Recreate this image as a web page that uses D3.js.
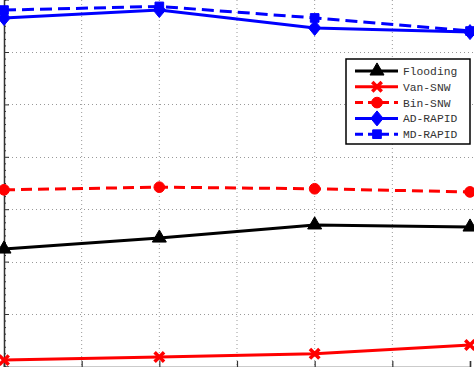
<!DOCTYPE html>
<html>
<head>
<meta charset="utf-8">
<script src="https://cdn.jsdelivr.net/npm/d3@7"></script>
<style>
  body { margin: 0; background: #fff; }
  svg { display: block; }
</style>
</head>
<body>
<script>
// Data (y in arbitrary units, axis labels are cropped away)
const xValues = [1, 2, 3, 4];
const flooding = [22.4, 24.5, 27.0, 26.6];
const vanSNW = [1.2, 1.8, 2.4, 4.1];
const binSNW = [33.7, 34.2, 33.9, 33.3];
const adRapid = [66.5, 68.0, 64.6, 63.8];
const mdRapid = [68.0, 68.7, 66.5, 64.0];
const xTicks = [1, 1.5, 2, 2.5, 3, 3.5, 4];
const yTicks = [10, 20, 30, 40, 50, 60];

const series = [
  { name: 'Flooding', values: flooding, color: '#000', dash: null, marker: 'triangle' },
  { name: 'Van-SNW', values: vanSNW, color: '#ff0000', dash: null, marker: 'cross' },
  { name: 'Bin-SNW', values: binSNW, color: '#ff0000', dash: '11,6', marker: 'circle' },
  { name: 'AD-RAPID', values: adRapid, color: '#0000ff', dash: null, marker: 'diamond' },
  { name: 'MD-RAPID', values: mdRapid, color: '#0000ff', dash: '12,6', marker: 'square' }
];

const width = 474, height = 367;

const svg = d3.select('body').append('svg')
  .attr('width', width)
  .attr('height', height);

const x = d3.scaleLinear().domain([1, 4]).range([4, 470]);
const y = d3.scaleLinear().domain([0, 70]).range([366.4, -0.4]);

// grid lines (dotted)
svg.append('g').selectAll('line')
  .data(xTicks.slice(1, -1))
  .enter().append('line')
  .attr('x1', d => x(d)).attr('x2', d => x(d))
  .attr('y1', 0).attr('y2', height)
  .attr('stroke', '#999').attr('stroke-width', 1)
  .attr('stroke-dasharray', '1,3');

svg.append('g').selectAll('line')
  .data(yTicks)
  .enter().append('line')
  .attr('x1', x(1)).attr('x2', width)
  .attr('y1', d => Math.round(y(d)) + 0.5).attr('y2', d => Math.round(y(d)) + 0.5)
  .attr('stroke', '#999').attr('stroke-width', 1)
  .attr('stroke-dasharray', '1,3');

// left axis with minor ticks
const yAxis = d3.axisRight(y)
  .tickValues(d3.range(0, 71, 1.25))
  .tickSize(2)
  .tickFormat('');
const yAxisG = svg.append('g')
  .attr('transform', `translate(${x(1)},0)`)
  .call(yAxis);
yAxisG.select('.domain').attr('stroke', '#333').attr('stroke-width', 1.5);
yAxisG.selectAll('.tick line')
  .attr('stroke', '#333')
  .attr('x2', d => (d % 10 === 0 ? 5 : 2));

// bottom ticks pointing up
const xAxisG = svg.append('g')
  .attr('transform', `translate(0,${height})`)
  .call(d3.axisTop(x).tickValues(xTicks).tickSize(6).tickFormat(''));
xAxisG.select('.domain').attr('stroke', '#333').attr('stroke-width', 1.5);
xAxisG.selectAll('.tick line').attr('stroke', '#333').attr('stroke-width', 1.2);

const line = d3.line()
  .x((d, i) => x(xValues[i]))
  .y(d => y(d));

// wider rhombus like the original diamond marker
const rhombus = {
  draw(ctx, size) {
    const w = Math.sqrt(size) * 0.62, h = Math.sqrt(size) * 0.75;
    ctx.moveTo(0, -h); ctx.lineTo(w, 0); ctx.lineTo(0, h); ctx.lineTo(-w, 0); ctx.closePath();
  }
};

const symbolFor = {
  triangle: d3.symbol().type(d3.symbolTriangle).size(85),
  circle: d3.symbol().type(d3.symbolCircle).size(90),
  diamond: d3.symbol().type(rhombus).size(100),
  square: d3.symbol().type(d3.symbolSquare).size(75),
  cross: d3.symbol().type(d3.symbolX).size(60)
};

function drawMarker(g, s) {
  const p = g.append('path').attr('d', symbolFor[s.marker]());
  if (s.marker === 'cross') {
    p.attr('fill', 'none').attr('stroke', s.color).attr('stroke-width', 3.5);
  } else {
    p.attr('fill', s.color).attr('stroke', s.color).attr('stroke-width', 1);
  }
  return p;
}

series.forEach(s => {
  svg.append('path')
    .datum(s.values)
    .attr('fill', 'none')
    .attr('stroke', s.color)
    .attr('stroke-width', 3)
    .attr('stroke-dasharray', s.dash)
    .attr('d', line);

  s.values.forEach((v, i) => {
    const g = svg.append('g')
      .attr('transform', `translate(${x(xValues[i])},${y(v)})`);
    drawMarker(g, s);
  });
});

// legend
const legend = svg.append('g').attr('transform', 'translate(346,59)');
legend.append('rect')
  .attr('x', 0).attr('y', 0)
  .attr('width', 124).attr('height', 85)
  .attr('fill', '#fff')
  .attr('stroke', '#000')
  .attr('stroke-width', 1.5);

const items = legend.selectAll('.legend-item')
  .data(series)
  .enter().append('g')
  .attr('class', 'legend-item')
  .attr('transform', (d, i) => `translate(0,${12 + i * 15.8})`);

items.append('line')
  .attr('x1', 9).attr('x2', 52)
  .attr('y1', 0).attr('y2', 0)
  .attr('stroke', d => d.color)
  .attr('stroke-width', 3)
  .attr('stroke-dasharray', d => (d.dash ? '8,5' : null));

items.each(function (d) {
  const g = d3.select(this).append('g').attr('transform', 'translate(31,0)');
  drawMarker(g, d);
});

items.append('text')
  .attr('x', 57)
  .attr('y', 4)
  .attr('font-family', '"Liberation Mono", "DejaVu Sans Mono", monospace')
  .attr('font-size', '11.3px')
  .attr('fill', '#333')
  .text(d => d.name);
</script>
</body>
</html>
